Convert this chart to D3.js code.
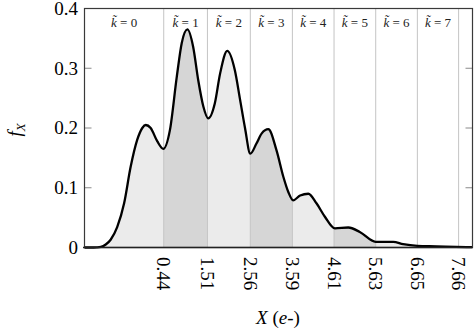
<!DOCTYPE html>
<html>
<head>
<meta charset="utf-8">
<script src="https://cdn.jsdelivr.net/npm/d3@7"></script>
<style>
  html, body { margin: 0; padding: 0; background: #fff; }
  svg { display: block; }
</style>
</head>
<body>
<svg id="chart" width="474" height="332"></svg>
<script>
// Bin boundaries (tick positions) and their printed labels
const xTicks = [0.44, 1.51, 2.56, 3.59, 4.61, 5.63, 6.65, 7.66];
const xTickLabels = ["0.44", "1.51", "2.56", "3.59", "4.61", "5.63", "6.65", "7.66"];
const yTicks = [0, 0.1, 0.2, 0.3, 0.4];
const yTickLabels = ["0", "0.1", "0.2", "0.3", "0.4"];
const binNames = ["0", "1", "2", "3", "4", "5", "6", "7"];

// Density curve f_X sampled along X (e-)
const densityX = [-1.5, -1.35, -1.2, -1.1, -0.98, -0.86, -0.7, -0.53, -0.37, -0.21, -0.085, 0.0,
  0.12, 0.28, 0.43, 0.59, 0.76, 0.88, 1.02, 1.16, 1.285, 1.41, 1.53, 1.69, 1.82, 1.995,
  2.18, 2.31, 2.43, 2.56, 2.71, 2.84, 3.0, 3.2, 3.37, 3.49, 3.61, 3.78, 3.98, 4.18, 4.39,
  4.63, 4.96, 5.24, 5.63, 6.06, 6.30, 6.65, 7.12, 7.6, 8.0];
const densityY = [0, 0, 0.0003, 0.001, 0.005, 0.013, 0.034, 0.074, 0.135, 0.18, 0.2, 0.205,
  0.2, 0.178, 0.165, 0.196, 0.286, 0.342, 0.365, 0.336, 0.28, 0.236, 0.216, 0.241, 0.291, 0.329,
  0.297, 0.247, 0.2, 0.157, 0.174, 0.191, 0.198, 0.163, 0.118, 0.093, 0.079, 0.087, 0.09, 0.074, 0.051,
  0.032, 0.0335, 0.026, 0.0094, 0.0094, 0.0055, 0.0027, 0.002, 0.001, 0.0005];

const xDomain = [-1.5, 8];
const yDomain = [0, 0.4];

const FONT = "Liberation Serif";

const svg = d3.select("#chart");
const plotLeft = 84.5, plotRight = 472.5, plotTop = 8.5, plotBottom = 247.5;

const x = d3.scaleLinear().domain(xDomain).range([plotLeft, plotRight]);
const y = d3.scaleLinear().domain(yDomain).range([plotBottom, plotTop]);

const points = densityX.map((d, i) => [d, densityY[i]]);

// Bins: from left edge through each boundary to the right edge
const edges = [xDomain[0], ...xTicks, xDomain[1]];
const bins = d3.pairs(edges);

const defs = svg.append("defs");
bins.forEach((b, i) => {
  defs.append("clipPath").attr("id", "bin" + i)
    .append("rect")
    .attr("x", x(b[0])).attr("y", plotTop)
    .attr("width", x(b[1]) - x(b[0])).attr("height", plotBottom - plotTop);
});

const area = d3.area()
  .x(d => x(d[0])).y0(y(0)).y1(d => y(d[1]))
  .curve(d3.curveMonotoneX);
const line = d3.line()
  .x(d => x(d[0])).y(d => y(d[1]))
  .curve(d3.curveMonotoneX);

// Shaded area, alternating tone per bin
bins.forEach((b, i) => {
  svg.append("path")
    .attr("d", area(points))
    .attr("clip-path", `url(#bin${i})`)
    .attr("fill", i % 2 === 0 ? "#ebebeb" : "#d6d6d6");
});

// Vertical grid at bin boundaries
svg.append("g").selectAll("line").data(xTicks).join("line")
  .attr("x1", d => x(d)).attr("x2", d => x(d))
  .attr("y1", plotTop).attr("y2", plotBottom)
  .attr("stroke", "#c4c4c4").attr("stroke-width", 1);

// Inward y ticks on both sides
const tickLen = 7;
svg.append("g").selectAll("line").data(yTicks).join("line")
  .attr("x1", plotLeft).attr("x2", plotLeft + tickLen)
  .attr("y1", d => y(d)).attr("y2", d => y(d))
  .attr("stroke", "#8a8a8a").attr("stroke-width", 1);
svg.append("g").selectAll("line").data(yTicks).join("line")
  .attr("x1", plotRight).attr("x2", plotRight - tickLen)
  .attr("y1", d => y(d)).attr("y2", d => y(d))
  .attr("stroke", "#8a8a8a").attr("stroke-width", 1);

// Density curve
svg.append("path")
  .attr("d", line(points))
  .attr("fill", "none")
  .attr("stroke", "#000")
  .attr("stroke-width", 2.3)
  .attr("stroke-linejoin", "round");

// Frame
svg.append("rect")
  .attr("x", plotLeft).attr("y", plotTop)
  .attr("width", plotRight - plotLeft).attr("height", plotBottom - plotTop)
  .attr("fill", "none").attr("stroke", "#3a3a3a").attr("stroke-width", 1.2);
svg.append("line")
  .attr("x1", plotLeft - 1.5).attr("x2", plotRight)
  .attr("y1", plotBottom).attr("y2", plotBottom)
  .attr("stroke", "#222").attr("stroke-width", 1.4);

// Bin names along the top
svg.append("g").selectAll("text").data(bins.slice(0, binNames.length)).join("text")
  .attr("x", d => (x(d[0]) + x(d[1])) / 2)
  .attr("y", 27)
  .attr("text-anchor", "middle")
  .attr("font-family", FONT)
  .attr("font-size", 13)
  .attr("fill", "#222")
  .each(function(d, i) {
    const t = d3.select(this);
    t.append("tspan").attr("font-style", "italic").text("k\u0303");
    t.append("tspan").text(" = " + binNames[i]);
  });

// Y tick labels
svg.append("g").selectAll("text").data(yTicks).join("text")
  .attr("x", plotLeft - 6.5)
  .attr("y", d => y(d))
  .attr("dy", "0.34em")
  .attr("text-anchor", "end")
  .attr("font-family", FONT)
  .attr("font-size", 19)
  .text((d, i) => yTickLabels[i]);

// X tick labels, rotated
svg.append("g").selectAll("text").data(xTicks).join("text")
  .attr("transform", d => `translate(${x(d)},${plotBottom + 9.5}) rotate(90)`)
  .attr("dy", "0.33em")
  .attr("text-anchor", "start")
  .attr("font-family", FONT)
  .attr("font-size", 19)
  .text((d, i) => xTickLabels[i]);

// Axis titles
const xt = svg.append("text")
  .attr("x", 278).attr("y", 324)
  .attr("text-anchor", "middle")
  .attr("font-family", FONT)
  .attr("font-size", 19);
xt.append("tspan").attr("font-style", "italic").text("X");
xt.append("tspan").text(" (");
xt.append("tspan").attr("font-style", "italic").text("e");
xt.append("tspan").text("-)");

const yt = svg.append("text")
  .attr("transform", "translate(21,130) rotate(-90)")
  .attr("text-anchor", "middle")
  .attr("font-family", FONT)
  .attr("font-size", 19);
yt.append("tspan").attr("font-style", "italic").text("f");
yt.append("tspan").attr("font-style", "italic").attr("font-size", 13).attr("dy", 4).text("X");
</script>
</body>
</html>
